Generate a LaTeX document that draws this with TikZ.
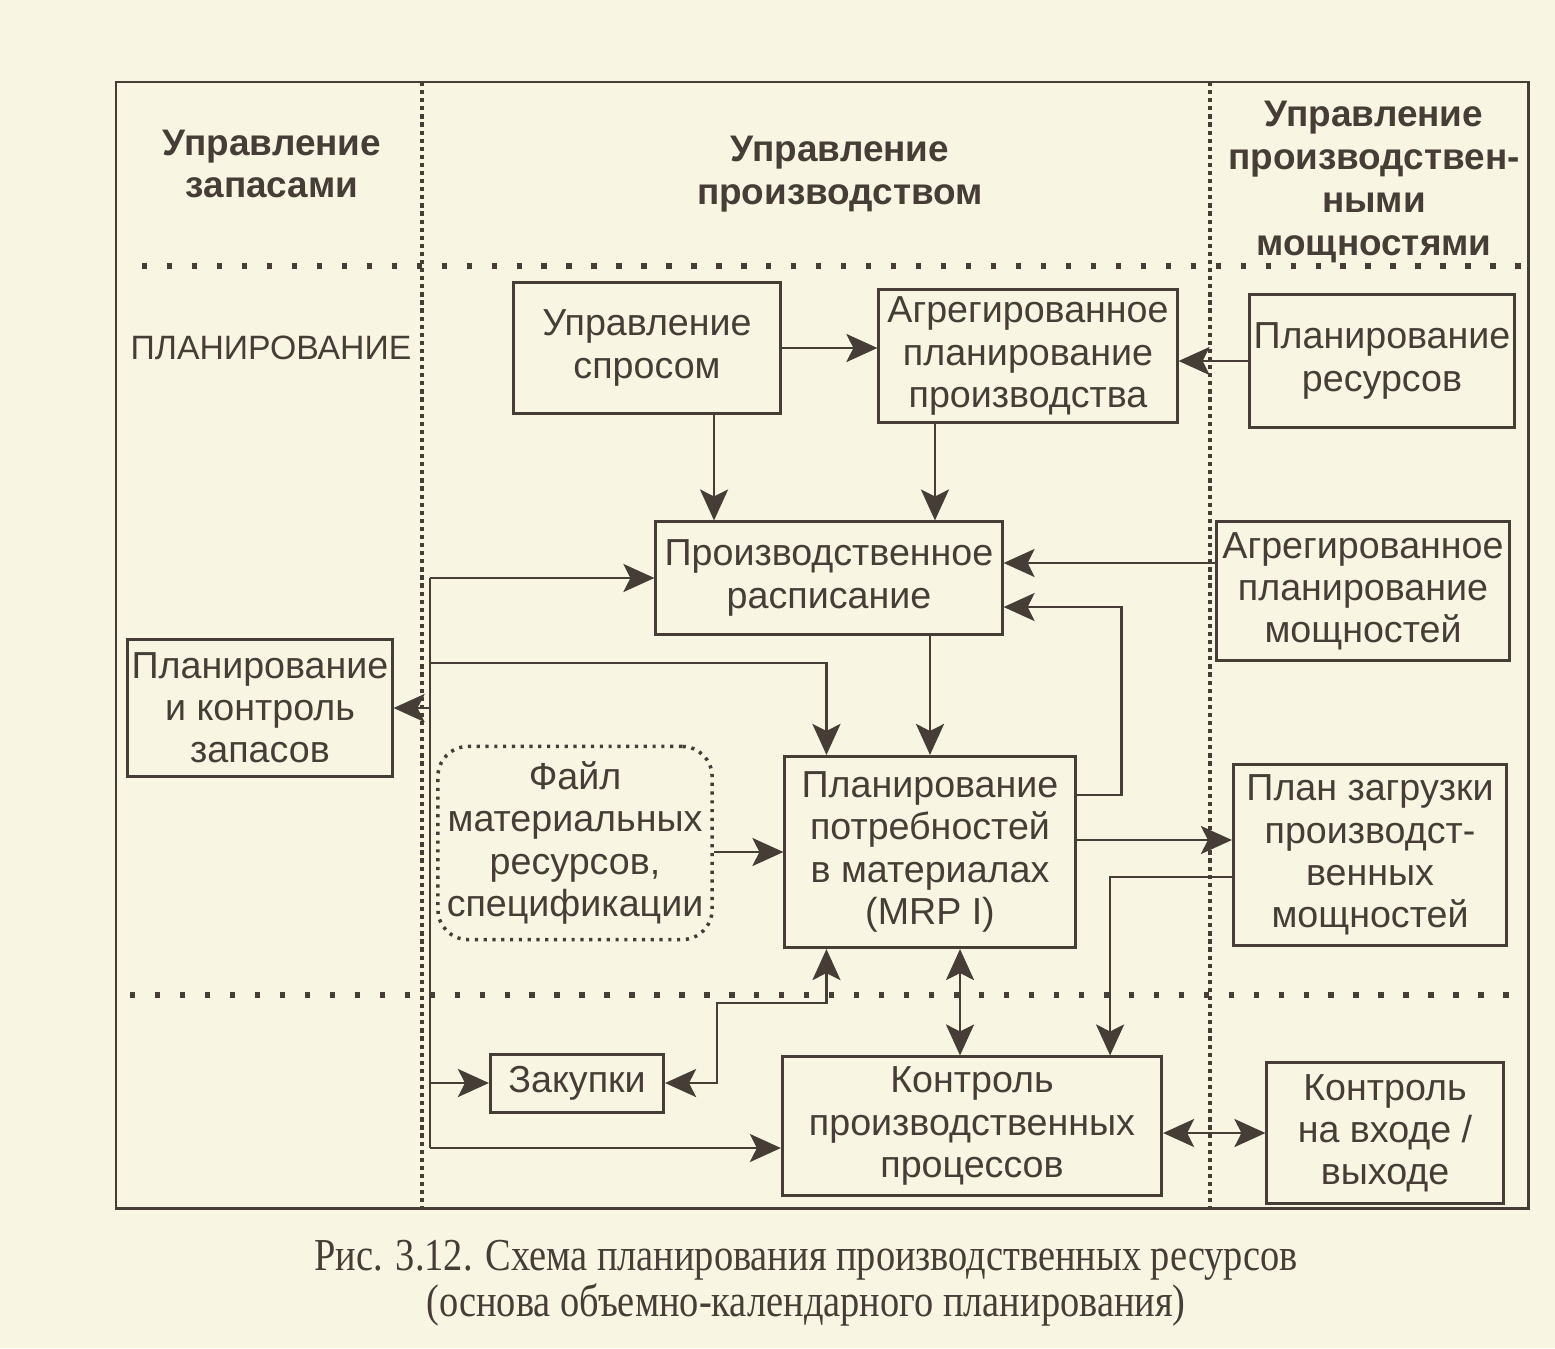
\documentclass[tikz,border=0pt]{standalone}
\usepackage{fontspec}
\setmainfont{Liberation Sans}
\newfontfamily\figfont[FakeStretch=0.84]{Liberation Serif}
\usetikzlibrary{arrows.meta}
\definecolor{ink}{RGB}{70,62,54}
\definecolor{paper}{RGB}{248,245,226}
\tikzset{
    box/.style = {draw, line width=0.85pt, align=center, inner sep=1pt},
    filebox/.style = {draw, line width=1pt, dash pattern=on 0.9pt off 1.6pt, rounded corners=0.3cm, align=center, inner sep=1pt},
    hdr/.style = {font=\fontsize{10.5}{12.2}\bfseries, align=center},
    arr/.style = {-{Stealth[length=3.1mm,width=2.8mm,inset=0.7mm]}, line width=0.75pt},
    dbl/.style = {{Stealth[length=3.1mm,width=2.8mm,inset=0.7mm]}-{Stealth[length=3.1mm,width=2.8mm,inset=0.7mm]}, line width=0.75pt},
    vdots/.style = {line width=1.3pt, dash pattern=on 1.2pt off 1.1pt},
    hdots/.style = {line width=1.5pt, dash pattern=on 1.5pt off 5.6pt}
}

\begin{document}
\begin{tikzpicture}[x=0.01cm, y=-0.01cm, color=ink, font=\fontsize{10.7}{12}\selectfont]
    \fill[paper] (0,0) rectangle (1555,1348);

    \draw[line width=0.85pt] (116,82) rectangle (1528,1208);
    \draw[vdots] (422,82) -- (422,1208);
    \draw[vdots] (1210,82) -- (1210,1208);
    \draw[hdots] (142,266) -- (1525,266);
    \draw[hdots] (130,995) -- (1515,995);

    \node[hdr] (hdrinv) at (272,164) {Управление\\запасами};
    \node[hdr] (hdrprod) at (840,174) {Управление\\производством};
    \node[hdr] (hdrcap) at (1374,182) {Управление\\производствен-\\ными\\мощностями};
    \node[font=\fontsize{9.6}{12}\selectfont] (plan) at (271,348) {ПЛАНИРОВАНИЕ};

    \node[box, minimum width=2.67cm, minimum height=1.3cm] (dem) at (647,348) {Управление\\спросом};
    \node[box, minimum width=2.98cm, minimum height=1.33cm] (agg) at (1028,356) {Агрегированное\\планирование\\производства};
    \node[box, minimum width=2.65cm, minimum height=1.32cm] (res) at (1382,361) {Планирование\\ресурсов};
    \node[box, minimum width=3.46cm, minimum height=1.12cm] (sch) at (829,578) {Производственное\\расписание};
    \node[box, minimum width=2.93cm, minimum height=1.38cm] (cap) at (1363,591) {Агрегированное\\планирование\\мощностей};
    \node[box, minimum width=2.64cm, minimum height=1.36cm] (inv) at (260,708) {Планирование\\и контроль\\запасов};
    \node[filebox, minimum width=2.74cm, minimum height=1.93cm] (bom) at (575,843) {Файл\\материальных\\ресурсов,\\спецификации};
    \node[box, minimum width=2.9cm, minimum height=1.91cm] (mrp) at (930,852) {Планирование\\потребностей\\в материалах\\(MRP I)};
    \node[box, minimum width=2.73cm, minimum height=1.8cm] (load) at (1370,855) {План загрузки\\производст-\\венных\\мощностей};
    \node[box, minimum width=1.73cm, minimum height=0.58cm] (buy) at (577,1083) {Закупки};
    \node[box, minimum width=3.79cm, minimum height=1.38cm] (ctl) at (972,1126) {Контроль\\производственных\\процессов};
    \node[box, minimum width=2.36cm, minimum height=1.4cm] (io) at (1385,1133) {Контроль\\на входе /\\выходе};

    \coordinate (busT) at (430,578);
    \coordinate (busB) at (430,1148);
    \coordinate (s1) at ([yshift=0.15cm]sch.east);
    \coordinate (s2) at ([yshift=-0.29cm]sch.east);
    \coordinate (m2) at ([yshift=0.57cm]mrp.east);
    \coordinate (m3) at ([yshift=0.12cm]mrp.east);
    \coordinate (l1) at ([yshift=-0.22cm]load.west);

    \draw[arr] (dem.east) -- (agg.west |- dem.east);
    \draw[arr] (res.west) -- (agg.east |- res.west);
    \draw[arr] ([xshift=0.67cm]dem.south) -- ([xshift=0.67cm]dem.south |- sch.north);
    \draw[arr] ([xshift=-0.93cm]agg.south) -- ([xshift=-0.93cm]agg.south |- sch.north);
    \draw[arr] (cap.west |- s1) -- (s1);
    \draw[arr] (m2) -- ++(45,0) |- (s2);
    \draw[arr] (mrp.north |- sch.south) -- (mrp.north);

    \draw[line width=0.75pt] (busT) -- (busB);
    \draw[arr] (busT) -- (sch.west);
    \draw[arr] (busT |- 0,663) -| ([xshift=0.43cm]mrp.north west);
    \draw[arr] (busT |- inv.east) -- (inv.east);
    \draw[arr] (busT |- buy.west) -- (buy.west);
    \draw[arr] (busB) -- (ctl.west |- busB);

    \draw[arr] (bom.east |- mrp.west) -- (mrp.west);
    \draw[arr] (m3) -- (load.west |- m3);
    \draw[arr] (l1) -| ([xshift=1.38cm]ctl.north);
    \draw[dbl] ([xshift=0.3cm]mrp.south) -- ([xshift=0.3cm]mrp.south |- ctl.north);
    \draw[dbl] (buy.east) -- ++(52,0) -- ++(0,-80) -| ([xshift=0.43cm]mrp.south west);
    \draw[dbl] (ctl.east |- io.west) -- (io.west);

    \node[font=\figfont\fontsize{13}{11}\selectfont, align=center] (title) at (806,1283) {Рис. 3.12. Схема планирования производственных ресурсов\\(основа объемно-календарного планирования)};
\end{tikzpicture}
\end{document}
